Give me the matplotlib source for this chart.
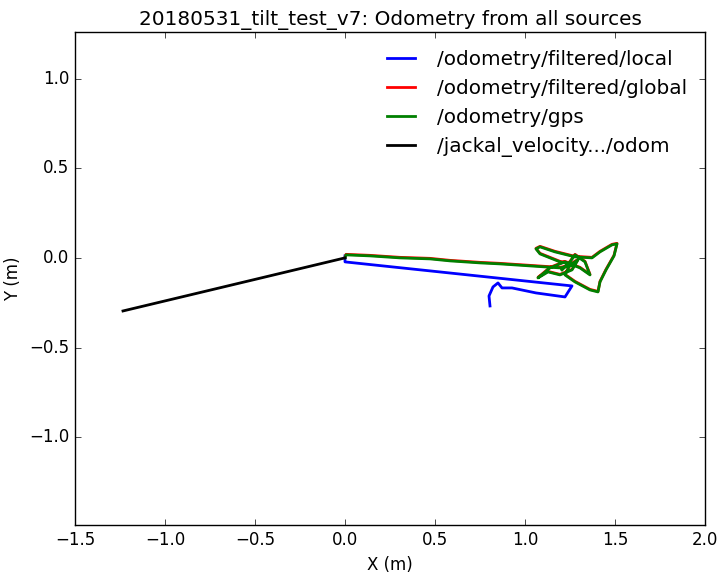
import matplotlib
matplotlib.use('Agg')
import matplotlib.pyplot as plt
import numpy as np

# pixel-read points converted to metres
def px(pts):
    a = np.array(pts, dtype=float)
    return (a[:, 0] - 345) / 180.0, (258 - a[:, 1]) / 179.0

local_pts = [(345, 256), (345, 262), (572, 286), (565, 297), (536, 293), (512, 288),
             (502, 288), (498, 283), (493, 287), (489, 296), (490, 306)]
gps_pts = [(345, 258), (346, 255), (370, 256), (400, 258), (430, 259), (450, 261),
           (480, 263), (500, 264), (530, 266), (545, 267), (560, 268), (575, 265),
           (560, 262), (545, 256), (540, 254), (536, 249), (540, 247), (555, 252),
           (575, 257), (592, 258), (600, 252), (612, 245), (617, 244), (614, 256),
           (606, 270), (600, 282), (598, 292), (590, 290), (575, 282), (565, 275),
           (570, 265), (578, 260), (572, 270), (560, 275), (548, 272), (538, 278),
           (550, 268), (565, 262), (580, 268), (590, 275), (585, 262), (575, 255),
           (570, 262), (562, 270)]
odom_pts = [(345, 258), (123, 311)]

lx, ly = px(local_pts)
gx, gy = px(gps_pts)
ox, oy = px(odom_pts)

plt.style.use('classic')
fig = plt.figure(figsize=(7.26, 5.74), dpi=100)
ax = fig.add_axes([75 / 726, 1 - 525 / 574, 630 / 726, 493 / 574])
ax.plot(lx, ly, color='blue', lw=2, label='/odometry/filtered/local')
ax.plot(gx, gy + 0.003, color='red', lw=2, label='/odometry/filtered/global')
ax.plot(gx, gy, color='green', lw=2, label='/odometry/gps')
ax.plot(ox, oy, color='black', lw=2, label='/jackal_velocity.../odom')
ax.set_xlim(-1.5, 2.0)
ax.set_ylim(-1.49, 1.26)
ax.set_xlabel('X (m)')
ax.set_ylabel('Y (m)')
ax.set_title('20180531_tilt_test_v7: Odometry from all sources')
ax.legend(loc='upper right', frameon=False)
fig.savefig('out.png', dpi=100)
